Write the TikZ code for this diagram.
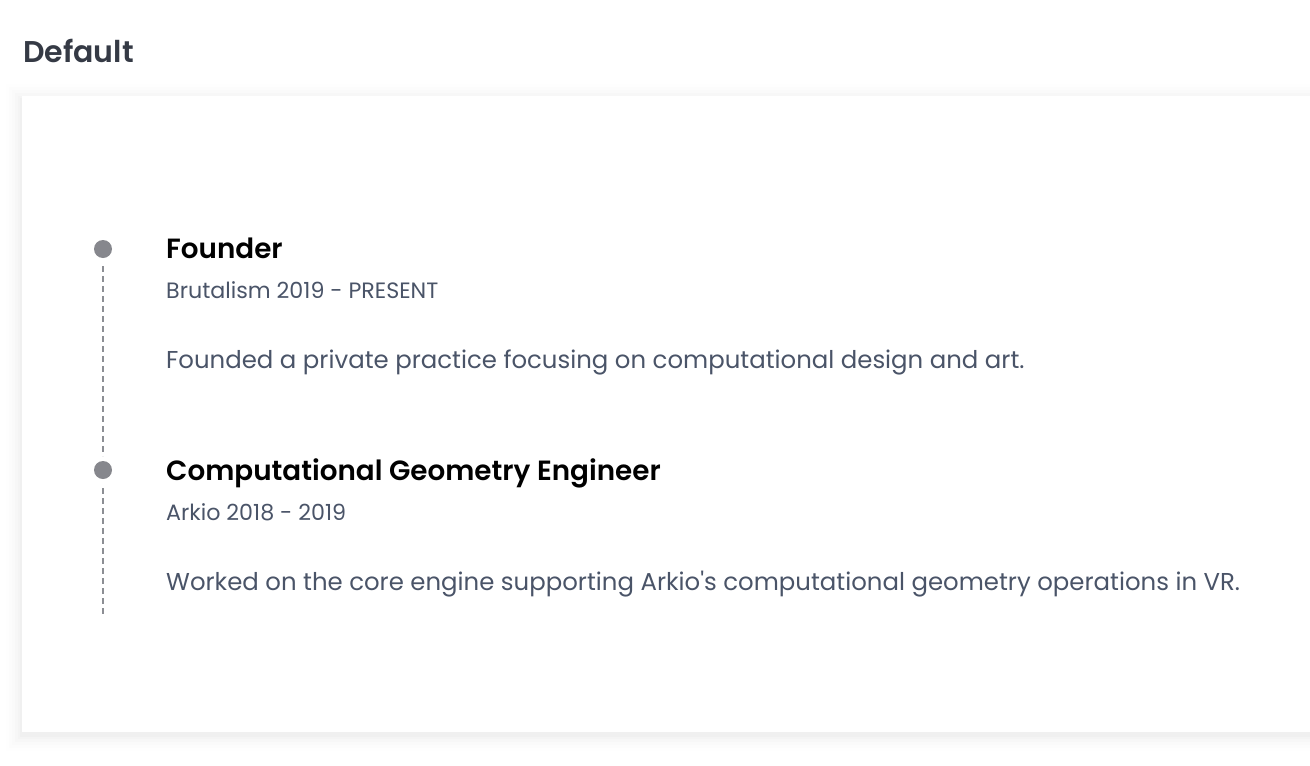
\documentclass[tikz,border=0pt]{standalone}
\usepackage{fontspec}
\setmainfont{Poppins}[Ligatures={TeXOff,CommonOff},BoldFont={Poppins SemiBold}]
\definecolor{headc}{HTML}{353A45}
\definecolor{subc}{HTML}{4A5468}
\definecolor{dotc}{HTML}{86878D}
\definecolor{linec}{HTML}{8C8E94}
\tikzset{
  heading/.style={anchor=base west, inner sep=0pt, text=headc, font=\fontsize{30}{34}\selectfont\bfseries},
  jobtitle/.style={anchor=base west, inner sep=0pt, text=black, font=\fontsize{27.8}{32}\selectfont\bfseries},
  jobsub/.style={anchor=base west, inner sep=0pt, text=subc, font=\fontsize{22.2}{26}\selectfont},
  jobdesc/.style={anchor=base west, inner sep=0pt, text=subc, font=\fontsize{24.4}{28}\selectfont},
  tdot/.style={circle, fill=dotc, inner sep=0pt, minimum size=18pt},
  tline/.style={draw=linec, line width=1.7pt, dash pattern=on 6pt off 4pt},
}
\begin{document}
\begin{tikzpicture}[x=1pt,y=-1pt]
\useasboundingbox[fill=white] (0,0) rectangle (1310,766);
% soft shadow of the card
\foreach \i/\o in {16/0.005,13/0.007,10/0.008,7/0.010,4/0.012,2/0.014}{
  \fill[black, opacity=\o] (22-\i,96-\i+4) rectangle (1340,732+\i+3);
}
\fill[white] (22,96) rectangle (1340,732);
\node[heading] (title) at (23,62.5) {Default};
% timeline
\node[tdot] (d1) at (103,249) {};
\node[tdot] (d2) at (103,470) {};
\coordinate (a1) at (103,266);
\coordinate (b1) at (103,456);
\coordinate (a2) at (103,488);
\coordinate (e2) at (103,614);
\draw[tline] (a1) -- (b1);
\draw[tline] (a2) -- (e2);
% entries
\node[jobtitle] (j1) at (166,258.3) {Founder};
\node[jobsub] (s1t) at (166,298.7) {Brutalism 2019 - PRESENT};
\node[jobdesc] (p1) at (166,368.7) {Founded a private practice focusing on computational design and art.};
\node[jobtitle] (j2) at (166,480.3) {Computational Geometry Engineer};
\node[jobsub] (s2t) at (166,520.7) {Arkio 2018 - 2019};
\node[jobdesc] (p2) at (166,590.7) {Worked on the core engine supporting Arkio's computational geometry operations in VR.};
\end{tikzpicture}
\end{document}
